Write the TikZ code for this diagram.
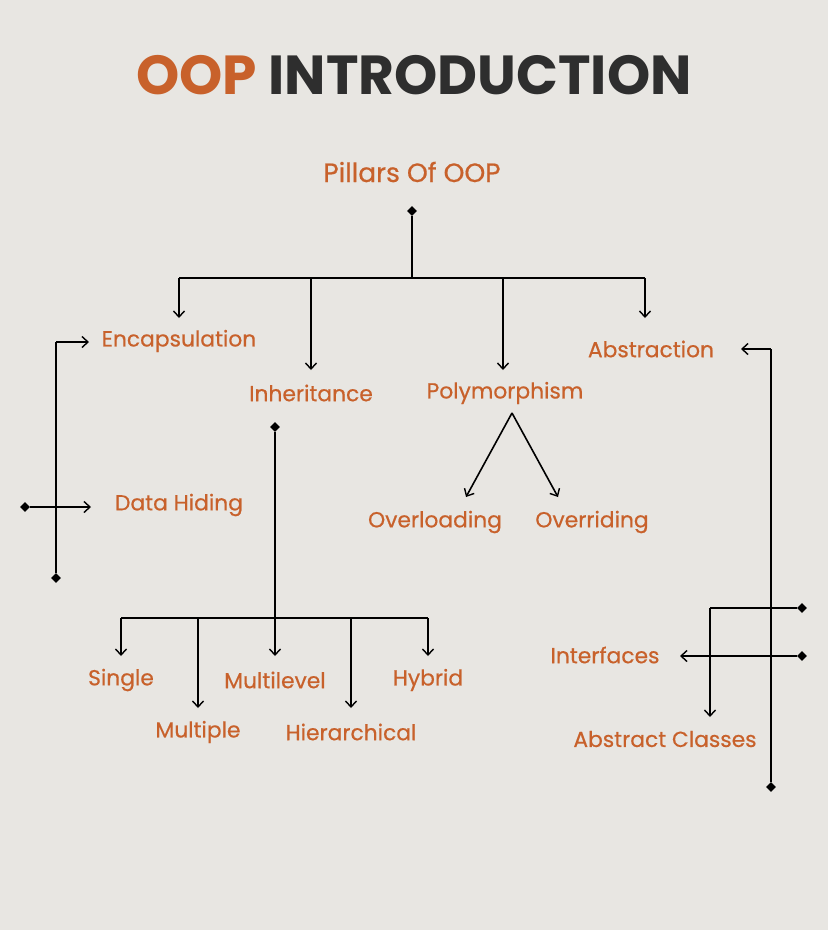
\documentclass[tikz,border=0pt]{standalone}
\usepackage{fontspec}
\setmainfont{Poppins}
\newfontfamily\lblfont[FakeBold=0.5]{Poppins}
\usetikzlibrary{arrows.meta,shapes.geometric}
\definecolor{bg}{HTML}{E8E6E2}
\definecolor{org}{HTML}{C8612B}
\definecolor{dark}{HTML}{2E2E2E}
\tikzset{
 lbl/.style={text=org,font=\lblfont\fontsize{21.8}{24}\selectfont},
 ln/.style={line width=1.6pt,draw=black},
 arr/.style={ln,-{Straight Barb[length=6pt,width=11pt,line width=1.4pt]}},
 dia/.style={diamond,fill=black,inner sep=0pt,minimum size=10pt},
}
\begin{document}
\begin{tikzpicture}[x=1pt,y=-1pt]
\fill[bg] (0,0) rectangle (828,930);
\useasboundingbox (0,0) rectangle (828,930);
\node (title) at (414,75) {\fontsize{55}{60}\selectfont\bfseries\textcolor{org}{OOP} \textcolor{dark}{INTRODUCTION}};
\node[lbl,font=\lblfont\fontsize{26.5}{30}\selectfont] (pil) at (412,172) {Pillars Of OOP};
\node[dia] (d0) at (412,211) {};
\coordinate (j0) at (412,278);
\coordinate (h1) at (179,278); \coordinate (h2) at (311,278);
\coordinate (h3) at (503,278); \coordinate (h4) at (645,278);
\draw[ln] (d0) -- (j0);
\draw[ln] (h1) -- (h4);
\coordinate (e1) at (179,318); \coordinate (e2) at (311,370);
\coordinate (e3) at (503,370); \coordinate (e4) at (645,318);
\draw[arr] (h1) -- (e1); \draw[arr] (h2) -- (e2);
\draw[arr] (h3) -- (e3); \draw[arr] (h4) -- (e4);
\node[lbl] (enc) at (179,341) {Encapsulation};
\node[lbl] (inh) at (311,393) {Inheritance};
\node[lbl] (pol) at (505,393) {Polymorphism};
\node[lbl] (abs) at (651,349) {Abstraction};
% left
\node[dia] (dl) at (56,578) {};
\coordinate (lt) at (56,342); \coordinate (lte) at (89,342);
\draw[ln] (dl) -- (lt);
\draw[arr] (lt) -- (lte);
\node[dia] (dd) at (25,507) {};
\coordinate (dde) at (91,507);
\draw[arr] (dd) -- (dde);
\node[lbl] (dh) at (179,505) {Data Hiding};
% inheritance
\node[dia] (di) at (275,427) {};
\coordinate (ij) at (275,618);
\draw[ln] (di) -- (ij);
\draw[ln] (121,618) coordinate (i1) -- (428,618) coordinate (i5);
\coordinate (i2) at (198,618); \coordinate (i4) at (351,618);
\draw[arr] (i1) -- (121,656); \draw[arr] (i2) -- (198,708);
\draw[arr] (ij) -- (275,656); \draw[arr] (i4) -- (351,708);
\draw[arr] (i5) -- (428,656);
\node[lbl] (s1) at (121,680) {Single};
\node[lbl] (s2) at (198,732) {Multiple};
\node[lbl] (s3) at (275,680) {Multilevel};
\node[lbl] (s4) at (351,732) {Hierarchical};
\node[lbl] (s5) at (428,680) {Hybrid};
% polymorphism
\coordinate (pa) at (512,413);
\draw[arr] (pa) -- (466,497);
\draw[arr] (pa) -- (558,497);
\node[lbl] (ov1) at (435,522) {Overloading};
\node[lbl] (ov2) at (592,522) {Overriding};
% right
\node[dia] (dr) at (771,787) {};
\coordinate (rt) at (771,349); \coordinate (rte) at (741,349);
\draw[ln] (dr) -- (rt);
\draw[arr] (rt) -- (rte);
\node[dia] (da) at (802,608) {};
\coordinate (ac) at (710,608);
\draw[ln] (da) -- (ac);
\draw[arr] (ac) -- (710,717);
\node[dia] (db) at (802,656) {};
\draw[arr] (db) -- (680,656);
\node[lbl] (itf) at (605,655) {Interfaces};
\node[lbl] (acl) at (665,739) {Abstract Classes};
\end{tikzpicture}
\end{document}
